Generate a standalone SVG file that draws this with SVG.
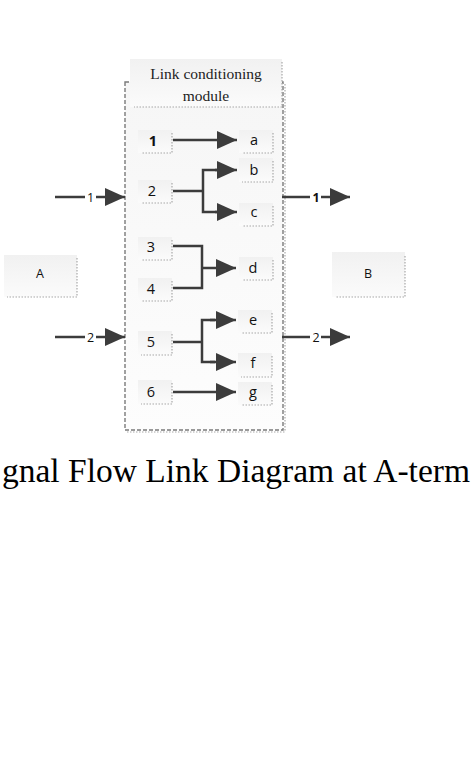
<svg xmlns="http://www.w3.org/2000/svg" width="474" height="780" viewBox="0 0 474 780">
<style>
.box{fill:url(#g)}
.sh{fill:none;stroke:#a8a8a8;stroke-width:1.2;stroke-dasharray:1.5 1.5}
.ln{fill:none;stroke:#3c3c3c;stroke-width:2.5}
.t{font-family:"Open Sans","Liberation Sans",sans-serif;font-size:14.5px;fill:#111;text-anchor:middle}
.s{font-size:12.5px}
.h{font-family:"Liberation Serif","DejaVu Serif",serif;font-size:15.5px;fill:#222;text-anchor:middle}
</style>
<defs>
<linearGradient id="g" x1="0" y1="0" x2="0" y2="1">
<stop offset="0" stop-color="#f1f1f1"/><stop offset="1" stop-color="#fbfbfb"/>
</linearGradient>
<linearGradient id="gm" x1="0" y1="0" x2="0" y2="1">
<stop offset="0" stop-color="#f6f6f6"/><stop offset="1" stop-color="#fdfdfd"/>
</linearGradient>
<marker id="ah" viewBox="0 0 20 18" refX="20" refY="9" markerWidth="20" markerHeight="18" markerUnits="userSpaceOnUse" orient="auto">
<path d="M0,0 L20,9 L0,18 Z" fill="#3c3c3c"/>
</marker>
</defs>
<rect width="474" height="780" fill="#fff"/>

<g id="module">
<rect x="125" y="82" width="158" height="348" fill="url(#gm)"/>
<rect x="125" y="82" width="158" height="348" fill="none" stroke="#7a7a7a" stroke-width="1.4" stroke-dasharray="4 2"/>
<line x1="285" y1="84" x2="285" y2="432" stroke="#aaa" stroke-width="1.2" stroke-dasharray="1.5 1.5"/>
<line x1="127" y1="432" x2="285" y2="432" stroke="#aaa" stroke-width="1.2" stroke-dasharray="1.5 1.5"/>
</g>

<g id="header">
<rect x="130" y="59" width="152" height="48" class="box"/>
<path d="M282,62 V107 H134" class="sh"/>
<text x="206" y="79" class="h">Link conditioning</text>
<text x="206" y="101" class="h">module</text>
</g>

<g id="nodeA"><rect x="4" y="255" width="73" height="42" class="box"/><path d="M77,258 V297 H7" class="sh"/><text x="40" y="278" class="t s">A</text></g>
<g id="nodeB"><rect x="332" y="252" width="73" height="45" class="box"/><path d="M405,256 V297 H335" class="sh"/><text x="368" y="278" class="t s">B</text></g>

<g id="n1"><rect x="138" y="130" width="34" height="23" class="box"/><path d="M172,133 V153 H141" class="sh"/><text x="153" y="146" class="t" font-weight="bold">1</text></g>
<g id="n2"><rect x="138" y="180" width="34" height="23" class="box"/><path d="M172,183 V203 H141" class="sh"/><text x="152" y="196" class="t">2</text></g>
<g id="n3"><rect x="138" y="237" width="34" height="23" class="box"/><path d="M172,240 V260 H141" class="sh"/><text x="151" y="252" class="t">3</text></g>
<g id="n4"><rect x="138" y="278" width="34" height="23" class="box"/><path d="M172,281 V301 H141" class="sh"/><text x="151" y="294" class="t">4</text></g>
<g id="n5"><rect x="138" y="331" width="34" height="24" class="box"/><path d="M172,334 V355 H141" class="sh"/><text x="151" y="347" class="t">5</text></g>
<g id="n6"><rect x="138" y="380" width="34" height="24" class="box"/><path d="M172,383 V404 H141" class="sh"/><text x="151" y="397" class="t">6</text></g>

<g id="na"><rect x="239" y="130" width="34" height="23" class="box"/><path d="M273,133 V153 H242" class="sh"/><text x="254" y="145" class="t">a</text></g>
<g id="nb"><rect x="239" y="158" width="34" height="24" class="box"/><path d="M273,161 V182 H242" class="sh"/><text x="254" y="175" class="t">b</text></g>
<g id="nc"><rect x="239" y="203" width="34" height="23" class="box"/><path d="M273,206 V226 H242" class="sh"/><text x="254" y="217" class="t">c</text></g>
<g id="nd"><rect x="239" y="257" width="34" height="23" class="box"/><path d="M273,260 V280 H242" class="sh"/><text x="253" y="273" class="t">d</text></g>
<g id="ne"><rect x="238" y="310" width="34" height="23" class="box"/><path d="M272,313 V333 H241" class="sh"/><text x="253" y="325" class="t">e</text></g>
<g id="nf"><rect x="238" y="353" width="34" height="24" class="box"/><path d="M272,356 V377 H241" class="sh"/><text x="253" y="368" class="t">f</text></g>
<g id="ng"><rect x="238" y="382" width="34" height="23" class="box"/><path d="M272,385 V405 H241" class="sh"/><text x="253" y="397" class="t">g</text></g>

<g id="connectors">
<line x1="173" y1="140" x2="237" y2="140" class="ln" marker-end="url(#ah)"/>
<path d="M173,191 H203" class="ln"/>
<path d="M220,170 H203 V212 H220" class="ln"/>
<line x1="215" y1="170" x2="237" y2="170" class="ln" marker-end="url(#ah)"/>
<line x1="215" y1="212" x2="237" y2="212" class="ln" marker-end="url(#ah)"/>
<path d="M173,246 H202 V288 H173" class="ln"/>
<line x1="202" y1="268" x2="236" y2="268" class="ln" marker-end="url(#ah)"/>
<path d="M173,342 H202" class="ln"/>
<path d="M215,320 H202 V362 H215" class="ln"/>
<line x1="210" y1="320" x2="236" y2="320" class="ln" marker-end="url(#ah)"/>
<line x1="210" y1="362" x2="236" y2="362" class="ln" marker-end="url(#ah)"/>
<line x1="173" y1="392" x2="236" y2="392" class="ln" marker-end="url(#ah)"/>

<line x1="55" y1="197" x2="85" y2="197" class="ln"/>
<line x1="96" y1="197" x2="125" y2="197" class="ln" marker-end="url(#ah)"/>
<text x="90.5" y="202" class="t s">1</text>
<line x1="55" y1="337" x2="85" y2="337" class="ln"/>
<line x1="96" y1="337" x2="125" y2="337" class="ln" marker-end="url(#ah)"/>
<text x="90.5" y="342" class="t s">2</text>

<line x1="282" y1="197" x2="310" y2="197" class="ln"/>
<line x1="321" y1="197" x2="350" y2="197" class="ln" marker-end="url(#ah)"/>
<text x="316" y="202" class="t s" font-weight="bold">1</text>
<line x1="282" y1="337" x2="310" y2="337" class="ln"/>
<line x1="321" y1="337" x2="350" y2="337" class="ln" marker-end="url(#ah)"/>
<text x="316" y="342" class="t s">2</text>
</g>

<text x="2" y="482" font-family="Liberation Serif,serif" font-size="33.5">gnal Flow Link Diagram at A-term</text>
</svg>
